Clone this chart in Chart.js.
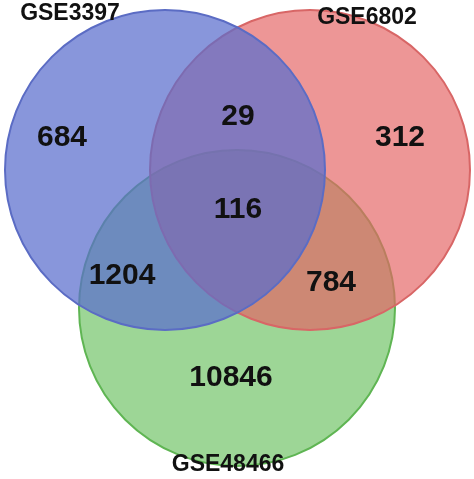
<!DOCTYPE html>
<html><head><meta charset="utf-8">
<script src="https://cdn.jsdelivr.net/npm/chart.js@4"></script>
<style>html,body{margin:0;padding:0;background:#fff}#wrap{width:474px;height:479px}</style>
</head><body><div id="wrap"><canvas id="venn"></canvas></div>
<script>
const setNames = ["GSE3397", "GSE6802", "GSE48466"];
const centerX = [165, 310, 237];
const centerY = [170, 170, 308];
const radii = [160, 160, 158];
const fills = ["rgba(90,110,205,0.72)", "rgba(228,100,100,0.68)", "rgba(110,195,100,0.68)"];
const borders = ["#5b6cc4", "#d86666", "#5fb553"];
const nameX = [70, 367, 228];
const nameY = [14, 18, 465];
const counts = ["684", "29", "312", "116", "1204", "784", "10846"];
const countX = [62, 238, 400, 238, 122, 331, 231];
const countY = [138, 117, 138, 210, 276, 283, 378];

const textPlugin = {
  id: "vennText",
  afterDatasetsDraw(chart) {
    const { ctx, scales: { x, y } } = chart;
    ctx.save();
    ctx.fillStyle = "#111";
    ctx.textAlign = "center";
    ctx.textBaseline = "middle";
    ctx.font = "bold 30px 'Liberation Sans', Arial, sans-serif";
    counts.forEach((c, i) => ctx.fillText(c, x.getPixelForValue(countX[i]), y.getPixelForValue(countY[i])));
    ctx.font = "bold 23px 'Liberation Sans', Arial, sans-serif";
    setNames.forEach((n, i) => ctx.fillText(n, x.getPixelForValue(nameX[i]), y.getPixelForValue(nameY[i])));
    ctx.restore();
  }
};

new Chart(document.getElementById("venn"), {
  type: "bubble",
  data: {
    datasets: setNames.map((n, i) => ({
      label: n,
      data: [{ x: centerX[i], y: centerY[i], r: radii[i] }],
      backgroundColor: fills[i],
      borderColor: borders[i],
      borderWidth: 2,
      hoverRadius: 0,
      clip: false
    }))
  },
  options: {
    responsive: true,
    maintainAspectRatio: false,
    animation: false,
    layout: { padding: 0, autoPadding: false },
    plugins: { legend: { display: false }, tooltip: { enabled: false } },
    scales: {
      x: { type: "linear", min: 0, max: 474, display: false },
      y: { type: "linear", min: 0, max: 479, reverse: true, display: false }
    }
  },
  plugins: [textPlugin]
});
</script>
</body></html>
